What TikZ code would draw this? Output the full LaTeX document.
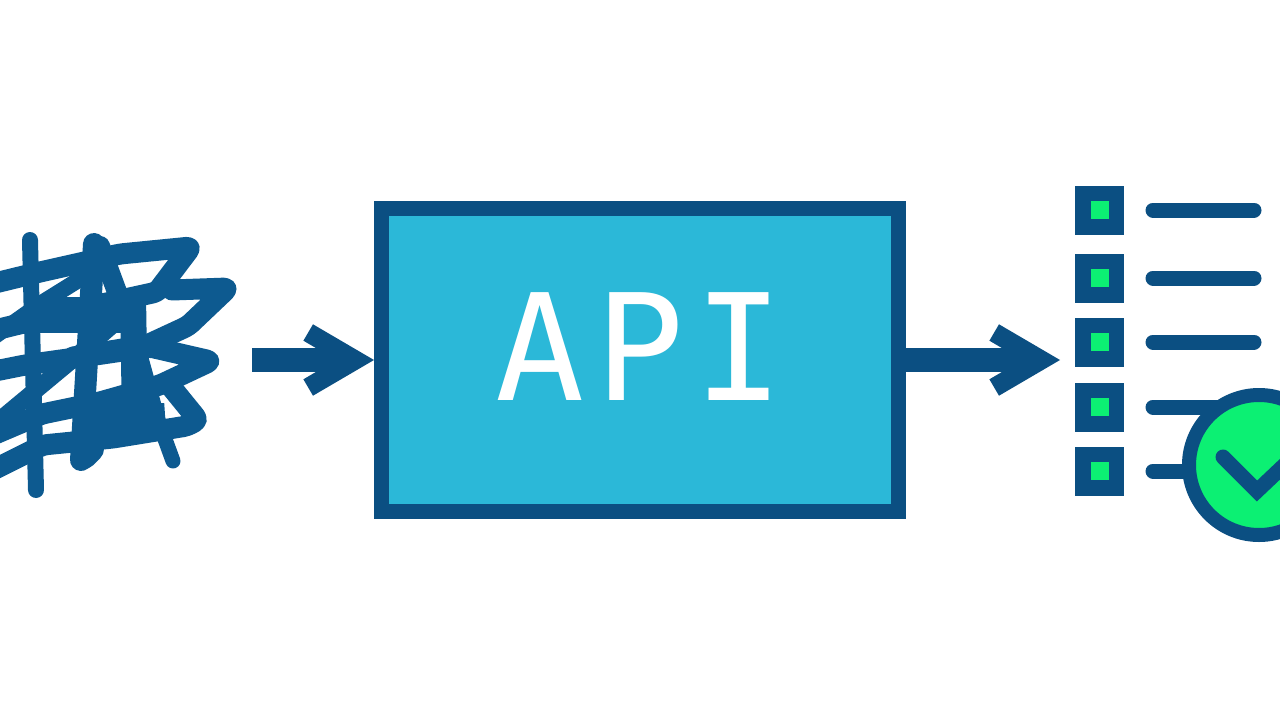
\documentclass[tikz,border=0pt]{standalone}
\usepackage{fontspec}
\newfontfamily\apifont[LetterSpace=7]{DejaVu Sans Mono}
\usetikzlibrary{arrows.meta}
\definecolor{apiink}{HTML}{0B4F82}
\definecolor{scribbleink}{HTML}{0D5A90}
\definecolor{apicyan}{HTML}{2BB8D8}
\definecolor{apigreen}{HTML}{0CF073}
\tikzset{
    apibox/.style={draw=apiink, fill=apicyan, line width=15pt, minimum width=517pt, minimum height=303pt},
    itembox/.style={draw=apiink, fill=apigreen, line width=15.5pt, minimum size=33.5pt, inner sep=0pt},
    itemline/.style={draw=apiink, line width=15pt, line cap=round},
    flowarrow/.style={draw=apiink, line width=24pt, -{Straight Barb[length=47pt, width=55pt, line width=19pt]}},
    scribble/.style={draw=scribbleink, line width=21pt, line cap=round, line join=round, rounded corners=4pt},
}
\begin{document}
\begin{tikzpicture}
[
    x=1pt, y=-1pt,
]
\useasboundingbox [fill=white] (0,0) rectangle (1280,720);
% scribble
\draw [scribble, line width=16pt] (30,240) -- (36,490);
\draw [scribble, line width=22pt] (94,244) -- (81,460);
\draw [scribble, line width=26pt] (84,456) -- (91,449);
\draw [scribble, line width=20pt] (100,246) -- (120,300);
\draw [scribble, line width=15pt] (173,461) -- (158,420) -- (125,300);
\draw [scribble] (-5,283) -- (40,272) -- (80,263) -- (120,254) -- (191,247) -- (157,292) -- (93,306) -- (-5,330);
\draw [scribble] (-5,371) -- (25,365) -- (75,358) -- (150,347) -- (211,361) -- (160,385) -- (100,402) -- (42,414) -- (-5,434);
\draw [scribble] (172,388) -- (198,420) -- (187,426) -- (113,438) -- (43,445) -- (-5,469);
\draw [scribble] (172,290) -- (228,288) -- (188,326) -- (147,345) -- (73,357);
\draw [scribble, line width=17pt] (-5,424) -- (72,360) -- (130,310);
\draw [scribble, line width=16pt] (-5,336) -- (40,304) -- (85,276);
\draw [scribble, line width=36pt, line cap=butt] (30,315) -- (145,315);
\draw [scribble, line width=26pt, line cap=butt] (133,295) -- (135,425);
\draw [scribble, line width=24pt, line cap=butt] (90,420) -- (165,415);
% api
\node [apibox] (api) at (640,360) {};
\node [text=white, font=\apifont\fontsize{148}{148}\selectfont] (apilabel) at (640,347) {API};
% checklist
\foreach \name/\y in {a/210,b/278,c/342,d/407,e/471}
{
    \node [itembox] (item\name) at (1099.5,\y) {};
    \draw [itemline] (1153,\y) -- (1254,\y);
}
\node [circle, draw=apiink, fill=apigreen, line width=14pt, minimum size=140pt, inner sep=0pt] (okmark) at (1259,465) {};
\draw [apiink, line width=15pt, line cap=round, miter limit=4] (1223,457) -- (1257,491) -- (1295,455);
% arrows
\coordinate (scribbleout) at (252,360);
\draw [flowarrow] (scribbleout) -- (api.west);
\draw [flowarrow] (api.east) -- (1060,360);
\end{tikzpicture}
\end{document}
